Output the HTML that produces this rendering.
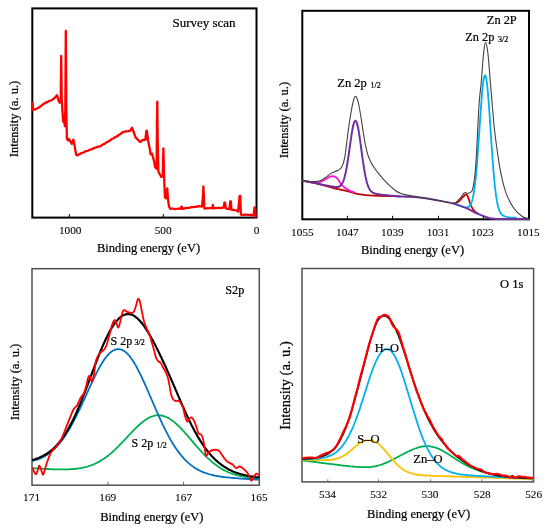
<!DOCTYPE html>
<html><head><meta charset="utf-8"><style>
html,body{margin:0;padding:0;background:#fff;}
body{width:550px;height:529px;overflow:hidden;font-family:"Liberation Serif", serif;}
svg{display:block;will-change:transform;}
</style></head><body>
<svg width="550" height="529" viewBox="0 0 550 529" font-family="Liberation Serif, serif" fill="#000">
<style>text{stroke:#000;stroke-width:0.22px;paint-order:stroke;} text.n{stroke-width:0.08px;}</style>
<rect width="550" height="529" fill="#fff"/>
<rect x="32.3" y="8.4" width="224.2" height="209.2" fill="none" stroke="#000" stroke-width="2"/>
<path d="M32.6,103.2 L33,110 L34.5,109.6 L36,108.9 L37.6,108.2 L39.3,107.2 L41,106 L42.4,104.8 L43.7,103.9 L45.1,102.9 L47,102.2 L49,101 L50.9,100.5 L52.7,99.4 L54.8,97.8 L57,95.2 L58.8,101.3 L59.9,102.7 L60.7,100 L61.2,56 L61.7,99 L62.6,113.4 L63.3,121.9 L64.1,119 L64.8,126.1 L65.3,110 L65.8,31 L66.3,110 L66.9,138.9 L67.9,140.3 L69,138.9 L70.4,141.7 L71.9,143.9 L73.3,139.6 L74.4,144.6 L76.1,154.5 L77.5,155.4 L78.9,154.5 L80.3,153.8 L81.7,153 L83.1,152.6 L84.5,152 L85.8,151.1 L87.2,150.9 L88.5,150.5 L89.9,149.7 L91.2,149.5 L92.6,148.9 L94,148 L95.3,147.8 L96.7,147.1 L98,146.7 L100,146.4 L101.4,145.5 L102.7,144.6 L104.1,144.1 L105.4,143.1 L106.8,142.1 L108.2,141.5 L109.5,140.9 L110.9,139.7 L112.2,138.8 L113.6,138.2 L114.9,137.3 L116.2,136.8 L117.5,136 L118.8,134.9 L120.1,134.2 L121.4,133.3 L122.7,132.2 L124.2,131.8 L125.7,131.3 L127.3,131.4 L128.8,131 L130.3,130.7 L132.1,127.7 L135.6,137.5 L137.1,138.9 L138.6,140.3 L140.1,142 L141.6,140.8 L143.1,139.8 L145.4,139.8 L146.3,131 L146.8,130.7 L148.1,140.5 L149.9,149.6 L150.6,154.4 L152.1,153.6 L154.4,162.7 L155.1,167.2 L156.6,168.7 L157,120 L157.3,101.6 L157.7,140 L158.4,171.7 L159.8,174.3 L161.2,177 L162.7,176.3 L163.1,160 L163.4,148.3 L163.8,165 L164.2,179.3 L164.9,197.4 L166,198.2 L167.2,188.4 L168,199 L169,206.5 L170.2,208.8 L171.5,208.6 L172.8,208.7 L174.2,208.8 L175.5,209.1 L176.8,208.9 L178.2,208.6 L179.5,208.6 L180.8,208.8 L181.6,206.5 L182.5,208.8 L184,208.5 L185.5,208.2 L187,207.9 L188.5,207.9 L190,207.7 L191.5,207.1 L193,207.2 L194.4,206.8 L195.9,206.8 L197.4,206.5 L198.9,206.1 L200.5,206.4 L202.1,206.5 L203,195 L203.4,186.3 L203.9,197 L204.3,208.4 L205.6,208.5 L207,208.2 L208.3,208.4 L209.6,208.1 L211,208.2 L212.3,208.1 L212.9,204.8 L213.4,208.4 L214.9,208.2 L216.3,208.2 L217.8,207.8 L219.3,207.8 L220.8,208.2 L222.2,207.6 L223.7,207.7 L224.4,202.6 L225.1,202.6 L225.8,208.4 L227.7,208.8 L229.5,209 L230.2,201.4 L230.9,201.4 L231.4,209.6 L233.1,209.9 L234.8,210.2 L236.5,210.3 L238.1,211.5 L239.6,196 L240.3,196 L240.9,214.7 L242.3,214.8 L243.7,214.9 L245.1,214.6 L246.5,214.7 L248,214.9 L249.4,214.9 L250.8,215 L252.2,215.1 L253.6,215.4 L254.5,207.3 L255,207.3 L255.5,217" fill="none" stroke="#ff0000" stroke-width="2.3" stroke-linejoin="round" stroke-linecap="round" stroke-linejoin="miter" stroke-miterlimit="3"/>
<path d="M69.3,217.6 v-3.5 M163.3,217.6 v-3.5" stroke="#000" stroke-width="1" fill="none"/>
<text x="70.2" y="234.2" font-size="11.3" text-anchor="middle" class="n">1000</text>
<text x="163.2" y="234.2" font-size="11.3" text-anchor="middle" class="n">500</text>
<text x="256.5" y="234.2" font-size="11.3" text-anchor="middle" class="n">0</text>
<text x="148.5" y="252.3" font-size="12.5" text-anchor="middle" >Binding energy (eV)</text>
<text x="0" y="0" font-size="12.5" text-anchor="middle" transform="translate(17.6,119) rotate(-90)">Intensity (a. u.)</text>
<text x="204" y="27.2" font-size="13" text-anchor="middle" >Survey scan</text>
<rect x="302.3" y="10.8" width="226.7" height="208.5" fill="none" stroke="#000" stroke-width="2"/>
<path d="M302.6,180.8 C304.9,181.2 311.4,182.2 316.4,183.4 C321.4,184.6 327.2,186.4 332.7,187.8 C338.1,189.2 344.6,190.5 349.1,191.6 C353.7,192.7 355.9,193.6 360,194.3 C364.1,195 368.7,195.3 373.7,195.6 C378.7,195.9 385.6,196 390,196.1 C394.4,196.2 398.3,196.3 400,196.3" fill="none" stroke="#c00000" stroke-width="1.8" stroke-linejoin="round" stroke-linecap="round" />
<path d="M316.4,182.9 L317.6,182.7 L318.9,182.3 L320.1,181.9 L321.4,181.4 L322.6,180.8 L323.9,180.1 L325.1,179.4 L326.4,178.7 L327.6,177.9 L328.9,177.2 L330.1,176.7 L331.3,176.3 L332.6,176.2 L333.8,176.3 L335.1,176.8 L336.3,177.6 L337.3,178.5 L338.1,179.5 L338.8,180.7 L339.6,181.9 L340.3,183.1 L341.1,184.1 L342,185.2 L343,186.2 L344,187 L345,187.8 L346,188.5 L347.3,189.3 L348.5,190 L349.8,190.6 L351,191.1 L352.3,191.6 L353.5,192 L354,192.2" fill="none" stroke="#ff14d2" stroke-width="1.8" stroke-linejoin="round" stroke-linecap="round" />
<path d="M453.6,203.6 L454.8,203.3 L456.1,202.9 L457.3,202.4 L458.6,201.5 L459.6,200.6 L460.6,199.6 L461.6,198.4 L462.6,197.2 L463.6,196.3 L464.6,195.4 L465.6,194.5 L466.8,194.6 L467.5,195.8 L468,197 L468.5,198.4 L469,200 L469.5,201.5 L470,203 L470.5,204.3 L471,205.6 L471.5,206.7 L472.3,208.1 L473,209.3 L473.8,210.3 L474.8,211.4 L475.8,212.2 L476.8,212.9 L477.5,213.3" fill="none" stroke="#d00000" stroke-width="1.8" stroke-linejoin="round" stroke-linecap="round" />
<path d="M455.5,203.8 L456.7,204.5 L458,205 L459.2,205.6 L460.5,206 L461.7,206.5 L463,206.8 L464.2,207.2 L465.5,207.4 L466.7,207.4 L467.9,207.2 L469.2,206.4 L470.2,205.3 L470.9,203.9 L471.4,202.7 L471.9,201.3 L472.4,199.5 L472.9,197.4 L473.2,196.2 L473.4,194.9 L473.7,193.5 L473.9,192 L474.2,190.4 L474.4,188.7 L474.7,186.9 L474.9,184.9 L475.2,182.8 L475.4,180.6 L475.7,178.3 L475.9,175.8 L476.2,173.2 L476.4,170.5 L476.7,167.7 L476.9,164.8 L477.2,161.7 L477.4,158.6 L477.6,155.3 L477.9,152 L478.1,148.5 L478.4,145 L478.6,141.5 L478.9,137.8 L479.1,134.2 L479.4,130.5 L479.6,126.8 L479.9,123.1 L480.1,119.5 L480.4,115.8 L480.6,112.3 L480.9,108.8 L481.1,105.4 L481.4,102 L481.6,98.9 L481.9,95.8 L482.1,92.9 L482.4,90.2 L482.6,87.6 L482.9,85.3 L483.1,83.2 L483.4,81.3 L483.6,79.7 L483.9,78.2 L484.4,76.2 L485.1,75.2 L485.9,76.7 L486.4,79.1 L486.6,80.7 L486.9,82.5 L487.1,84.5 L487.4,86.8 L487.6,89.3 L487.9,92 L488.1,94.8 L488.3,97.9 L488.6,101.1 L488.8,104.4 L489.1,107.8 L489.3,111.4 L489.6,115 L489.8,118.7 L490.1,122.5 L490.3,126.2 L490.6,130 L490.8,133.8 L491.1,137.6 L491.3,141.4 L491.6,145.1 L491.8,148.8 L492.1,152.3 L492.3,155.9 L492.6,159.3 L492.8,162.6 L493.1,165.9 L493.3,169 L493.6,172.1 L493.8,175 L494.1,177.7 L494.3,180.4 L494.6,183 L494.8,185.4 L495.1,187.7 L495.3,189.8 L495.6,191.9 L495.8,193.8 L496.1,195.6 L496.3,197.3 L496.6,198.9 L496.8,200.4 L497.1,201.8 L497.3,203.1 L497.6,204.3 L498.1,206.4 L498.6,208.2 L499.1,209.7 L499.5,210.9 L500.3,212.5 L501,213.6 L502,214.7 L503,215.4 L504.3,216.1 L505.5,216.5 L506.8,216.9 L508,217.2 L509.3,217.5 L510,217.7 L516,217.7" fill="none" stroke="#00b0f0" stroke-width="1.8" stroke-linejoin="round" stroke-linecap="round" />
<path d="M302.6,180.5 L303.8,180.8 L305.1,181.1 L306.3,181.3 L307.6,181.6 L308.8,181.8 L310.1,182.1 L311.3,182.4 L312.6,182.6 L313.8,182.9 L315.1,183.1 L316.3,183.4 L317.6,183.6 L318.8,183.9 L320.1,184.2 L321.3,184.4 L322.6,184.7 L323.8,184.9 L325.1,185.2 L326.3,185.4 L327.6,185.6 L328.8,185.9 L330.1,186.1 L331.3,186.4 L332.6,186.6 L333.8,186.8 L335.1,187 L336.3,187 L337.6,187 L338.8,186.7 L340.1,186 L341.1,185.1 L341.8,184.1 L342.6,182.7 L343.1,181.6 L343.6,180.3 L344.1,178.8 L344.6,177.1 L345.1,175.1 L345.6,173 L346.1,170.6 L346.3,169.3 L346.6,168 L346.8,166.6 L347.1,165.1 L347.3,163.6 L347.6,162.1 L347.8,160.5 L348.1,158.9 L348.3,157.2 L348.6,155.5 L348.8,153.8 L349.1,152 L349.3,150.2 L349.6,148.5 L349.8,146.7 L350.1,144.9 L350.3,143.1 L350.6,141.4 L350.8,139.6 L351.1,137.9 L351.3,136.3 L351.5,134.7 L351.8,133.1 L352,131.6 L352.3,130.2 L352.5,128.8 L352.8,127.6 L353,126.4 L353.5,124.3 L354,122.7 L354.5,121.6 L355.5,120.7 L356.5,122 L357,123.3 L357.5,125.2 L358,127.4 L358.3,128.7 L358.5,130.1 L358.8,131.5 L359,133 L359.3,134.6 L359.5,136.3 L359.8,138 L360,139.7 L360.3,141.5 L360.5,143.4 L360.8,145.2 L361,147.1 L361.3,148.9 L361.5,150.8 L361.8,152.6 L362,154.5 L362.3,156.3 L362.5,158.1 L362.8,159.9 L363,161.7 L363.3,163.4 L363.5,165 L363.8,166.7 L364,168.2 L364.3,169.8 L364.5,171.2 L364.8,172.6 L365,174 L365.3,175.3 L365.5,176.5 L365.8,177.7 L366.3,179.9 L366.8,181.9 L367.3,183.7 L367.8,185.2 L368.3,186.6 L368.8,187.7 L369.5,189.2 L370.3,190.4 L371.3,191.5 L372.3,192.3 L373.5,193 L374.8,193.5 L376,193.8 L377.3,194 L378.5,194.2 L379.8,194.4 L381,194.6 L382.3,194.7 L383.5,194.9 L384.8,195 L386,195.2 L387.3,195.3 L388.5,195.4 L389.8,195.6 L391,195.7 L392.3,195.8 L393.5,195.9 L394.8,196 L396,196.1 L397.3,196.2 L398.5,196.3 L399.8,196.4 L400,196.5 L400,196.5 C402.9,196.6 411.4,196.7 417.3,197.3 C423.2,197.9 429.4,198.9 435.5,200 C441.6,201.1 448.5,202.2 453.6,203.6 C458.8,205 462.4,206.5 466.4,208.2 C470.3,209.9 474.2,212.2 477.3,213.6 C480.4,215 482.6,215.8 485,216.6 C487.4,217.4 489.2,218.2 491.7,218.6 C494.2,219 493.8,218.9 500,219 C506.2,219.1 523.9,219 528.7,219" fill="none" stroke="#7030a0" stroke-width="2.0" stroke-linejoin="round" stroke-linecap="round" />
<path d="M302.6,180.8 C303.8,180.9 307.7,181.4 310,181.5 C312.3,181.6 314.4,181.8 316.4,181.6 C318.4,181.3 320.1,180.8 321.8,180 C323.5,179.2 325.2,177.7 326.7,176.6 C328.2,175.5 329.6,174.3 331,173.4 C332.4,172.5 333.9,172 335.2,171.4 C336.5,170.8 337.5,170.8 338.6,170 C339.7,169.2 341,168.6 342,166.6 C343,164.6 343.9,161.5 344.6,158.1 C345.3,154.7 345.7,150.4 346.3,146.2 C346.9,141.9 347.3,137.7 348,132.6 C348.7,127.5 349.6,120.6 350.5,115.5 C351.4,110.4 352.3,105.1 353.1,101.9 C353.9,98.7 354.7,96.4 355.5,96.4 C356.3,96.4 357.2,98.7 358.1,101.9 C359,105.1 359.8,110.4 360.7,115.5 C361.6,120.6 362.5,127.8 363.3,132.6 C364.1,137.4 364.6,140.5 365.3,144.2 C366.1,147.9 366.9,151.7 367.8,154.7 C368.7,157.7 369.8,160 370.9,162.3 C372,164.6 373.2,166.3 374.6,168.3 C376,170.3 377.6,172.4 379.2,174.4 C380.8,176.4 382.8,178.5 384.5,180.4 C386.2,182.3 387.9,184.1 389.7,185.7 C391.4,187.3 393.2,188.9 395,190.2 C396.8,191.5 398.6,192.6 400.3,193.3 C402,194 402.2,194 405,194.6 C407.8,195.2 412.2,195.8 417.3,196.7 C422.4,197.6 430.1,199 435.5,200 C440.9,201 446.7,202.2 450,202.7 C453.3,203.1 453.7,203.6 455.5,202.7 C457.3,201.8 459.4,199 460.9,197.3 C462.4,195.6 463.3,193.3 464.5,192.7 C465.7,192 467,193.7 468.2,193.4 C469.4,193.2 470.9,192.6 471.8,191.2 C472.7,189.8 472.9,188.2 473.5,185 C474.1,181.8 474.7,177.2 475.2,172 C475.7,166.8 475.9,163.8 476.5,153.5 C477.1,143.2 478.1,119.6 478.7,110 C479.2,100.4 479.4,100.9 479.8,96 C480.2,91.1 480.8,87.6 481.4,80.5 C482,73.4 482.9,59.6 483.6,53.2 C484.3,46.9 484.9,42.4 485.6,42.4 C486.3,42.4 487.1,46.9 487.9,53.2 C488.7,59.6 489.4,71 490.2,80.5 C491,90 492,102.2 492.7,110 C493.4,117.8 493.6,121.6 494.2,127 C494.8,132.4 495.1,135.3 496.1,142.6 C497.1,149.9 498.8,162.6 500.4,170.9 C502,179.2 503.7,186.4 505.9,192.6 C508.1,198.8 510.8,203.8 513.5,207.8 C516.2,211.8 519.7,214.7 522.2,216.5 C524.7,218.3 527.6,218.2 528.7,218.5" fill="none" stroke="#404040" stroke-width="1.1" stroke-linejoin="round" stroke-linecap="round" />
<path d="M347.4,219.3 v-3.5 M392.6,219.3 v-3.5 M438.5,219.3 v-3.5 M483.5,219.3 v-3.5" stroke="#000" stroke-width="1" fill="none"/>
<text x="302.4" y="235.8" font-size="11.3" text-anchor="middle" class="n">1055</text>
<text x="347.4" y="235.8" font-size="11.3" text-anchor="middle" class="n">1047</text>
<text x="392.4" y="235.8" font-size="11.3" text-anchor="middle" class="n">1039</text>
<text x="438" y="235.8" font-size="11.3" text-anchor="middle" class="n">1031</text>
<text x="482.4" y="235.8" font-size="11.3" text-anchor="middle" class="n">1023</text>
<text x="528.4" y="235.8" font-size="11.3" text-anchor="middle" class="n">1015</text>
<text x="412.5" y="253.7" font-size="12.5" text-anchor="middle" >Binding energy (eV)</text>
<text x="0" y="0" font-size="12.5" text-anchor="middle" transform="translate(288,120.1) rotate(-90)">Intensity (a. u.)</text>
<text x="501.8" y="24" font-size="12.4" text-anchor="middle" >Zn 2P</text>
<text x="465.3" y="40.9" font-size="12.3" text-anchor="start" >Zn 2p</text>
<text x="498" y="41.5" font-size="8" text-anchor="start" >3/2</text>
<text x="337.3" y="87.3" font-size="12.5" text-anchor="start" >Zn 2p</text>
<text x="370.5" y="87.6" font-size="8" text-anchor="start" >1/2</text>
<rect x="32" y="268.7" width="227.3" height="216.5" fill="none" stroke="#505050" stroke-width="1.5"/>
<path d="M33,468.2 L34.2,468.3 L35.5,468.3 L36.7,468.4 L38,468.5 L39.2,468.6 L40.5,468.6 L41.7,468.7 L43,468.8 L44.2,468.9 L45.5,468.9 L46.7,469 L48,469 L49.2,469.1 L50.5,469.2 L51.7,469.2 L53,469.3 L54.2,469.3 L55.5,469.3 L56.7,469.4 L58,469.4 L59.2,469.4 L60.5,469.4 L61.7,469.4 L63,469.4 L64.2,469.4 L65.5,469.4 L66.7,469.4 L68,469.4 L69.2,469.3 L70.5,469.2 L71.7,469.2 L73,469.1 L74.2,469 L75.5,468.9 L76.7,468.7 L78,468.5 L79.2,468.4 L80.5,468.2 L81.7,467.9 L83,467.7 L84.2,467.4 L85.5,467.1 L86.7,466.8 L88,466.4 L89.2,466 L90.5,465.6 L91.7,465.1 L93,464.6 L94.2,464.1 L95.5,463.5 L96.7,462.9 L98,462.3 L99.2,461.6 L100.5,460.9 L101.7,460.1 L103,459.3 L104,458.7 L105,458 L106,457.3 L107,456.5 L108,455.7 L109,454.9 L110,454.1 L111,453.3 L112,452.4 L113,451.5 L114,450.6 L115,449.7 L116,448.7 L117,447.7 L118,446.8 L119,445.7 L120,444.7 L121,443.7 L122,442.6 L123,441.6 L124,440.5 L125,439.5 L126,438.4 L127,437.3 L128,436.2 L129,435.1 L130,434.1 L131,433 L132,432 L133,430.9 L134,429.9 L135,428.9 L136,427.9 L137,426.9 L138,426 L139,425 L140,424.1 L141,423.3 L142,422.5 L143,421.7 L144,420.9 L145,420.2 L146,419.5 L147.2,418.7 L148.5,418 L149.7,417.4 L151,416.8 L152.2,416.4 L153.5,416 L154.7,415.7 L156,415.4 L157.2,415.3 L158.5,415.3 L159.7,415.3 L161,415.5 L162.2,415.7 L163.5,416 L164.7,416.4 L166,416.9 L167.2,417.5 L168.5,418.1 L169.7,418.9 L171,419.7 L172,420.4 L173,421.1 L174,421.9 L175,422.7 L176,423.6 L177,424.5 L178,425.5 L179,426.4 L180,427.4 L181,428.5 L182,429.5 L183,430.6 L184,431.7 L185,432.8 L186,433.9 L187,435.1 L188,436.2 L189,437.4 L190,438.6 L191,439.7 L192,440.9 L193,442.1 L194,443.3 L195,444.4 L196,445.6 L197,446.7 L198,447.9 L199,449 L200,450.1 L201,451.2 L202,452.3 L203,453.3 L204,454.4 L205,455.4 L206,456.4 L207,457.4 L208,458.3 L209,459.2 L210,460.1 L211,461 L212,461.9 L213,462.7 L214,463.5 L215,464.3 L216,465 L217,465.8 L218,466.4 L219,467.1 L220.2,467.9 L221.5,468.7 L222.7,469.4 L224,470.1 L225.2,470.7 L226.5,471.3 L227.7,471.9 L229,472.5 L230.2,473 L231.5,473.4 L232.7,473.9 L234,474.3 L235.2,474.7 L236.5,475 L237.7,475.4 L239,475.7 L240.2,476 L241.5,476.2 L242.7,476.5 L244,476.7 L245.2,476.9 L246.5,477.1 L247.7,477.3 L249,477.5 L250.2,477.6 L251.5,477.7 L252.7,477.9 L254,478 L255.2,478.1 L256.5,478.2 L257.7,478.3 L258.7,478.3" fill="none" stroke="#00b050" stroke-width="1.8" stroke-linejoin="round" stroke-linecap="round" />
<path d="M33,460.8 L34.2,460.5 L35.5,460.1 L36.7,459.7 L38,459.3 L39.2,458.8 L40.5,458.3 L41.7,457.7 L43,457.1 L44.2,456.5 L45.5,455.7 L46.7,455 L48,454.1 L49,453.4 L50,452.7 L51,451.9 L52,451.1 L53,450.2 L54,449.3 L55,448.3 L56,447.3 L57,446.2 L58,445.1 L59,444 L60,442.8 L60.7,441.8 L61.5,440.9 L62.2,439.9 L63,438.9 L63.7,437.8 L64.5,436.7 L65.2,435.6 L66,434.5 L66.7,433.3 L67.5,432.1 L68.2,430.9 L69,429.7 L69.7,428.4 L70.5,427.1 L71.2,425.7 L72,424.4 L72.7,423 L73.5,421.6 L74.2,420.2 L75,418.7 L75.7,417.3 L76.5,415.8 L77.2,414.2 L78,412.7 L78.7,411.2 L79.5,409.6 L80.2,408 L81,406.4 L81.7,404.8 L82.5,403.2 L83.2,401.5 L83.7,400.4 L84.2,399.4 L84.7,398.3 L85.2,397.2 L85.7,396.1 L86.2,394.9 L86.7,393.8 L87.2,392.7 L87.7,391.6 L88.2,390.5 L88.7,389.4 L89.2,388.3 L89.7,387.2 L90.2,386.1 L91,384.5 L91.7,382.9 L92.5,381.3 L93.2,379.7 L94,378.1 L94.7,376.6 L95.5,375.1 L96.2,373.6 L97,372.1 L97.7,370.6 L98.5,369.2 L99.2,367.9 L100,366.5 L100.7,365.2 L101.5,363.9 L102.2,362.7 L103,361.5 L103.7,360.4 L104.5,359.3 L105.2,358.3 L106,357.3 L106.7,356.3 L107.7,355.2 L108.7,354.1 L109.7,353.1 L110.7,352.3 L111.7,351.5 L112.7,350.8 L114,350.2 L115.2,349.6 L116.5,349.3 L117.7,349.1 L119,349.1 L120.2,349.3 L121.5,349.7 L122.7,350.2 L124,350.9 L125,351.6 L126,352.4 L127,353.4 L128,354.4 L129,355.5 L130,356.7 L130.7,357.7 L131.5,358.7 L132.2,359.8 L133,360.9 L133.7,362.1 L134.5,363.3 L135.2,364.6 L136,365.9 L136.7,367.3 L137.5,368.7 L138.2,370.1 L139,371.6 L139.7,373.1 L140.5,374.6 L141.2,376.2 L142,377.7 L142.7,379.3 L143.5,381 L144,382.1 L144.5,383.2 L145,384.3 L145.5,385.4 L146,386.6 L146.5,387.7 L147,388.8 L147.5,390 L148,391.1 L148.5,392.3 L149,393.5 L149.5,394.6 L150,395.8 L150.5,396.9 L151,398.1 L151.5,399.3 L152,400.4 L152.5,401.6 L153,402.8 L153.5,403.9 L154,405.1 L154.5,406.3 L155,407.4 L155.5,408.6 L156,409.7 L156.5,410.8 L157,412 L157.5,413.1 L158,414.2 L158.5,415.4 L159,416.5 L159.5,417.6 L160,418.7 L160.5,419.8 L161.2,421.4 L162,423 L162.7,424.6 L163.5,426.1 L164.2,427.7 L165,429.2 L165.7,430.7 L166.5,432.2 L167.2,433.6 L168,435 L168.7,436.4 L169.5,437.8 L170.2,439.1 L171,440.4 L171.7,441.7 L172.5,442.9 L173.2,444.2 L174,445.4 L174.7,446.5 L175.5,447.7 L176.2,448.8 L177,449.9 L177.7,450.9 L178.5,451.9 L179.2,452.9 L180,453.9 L180.7,454.8 L181.7,456.1 L182.7,457.2 L183.7,458.3 L184.7,459.4 L185.7,460.4 L186.7,461.4 L187.7,462.3 L188.7,463.2 L189.7,464.1 L190.7,464.9 L191.7,465.6 L192.7,466.4 L193.7,467.1 L195,467.9 L196.2,468.7 L197.5,469.4 L198.7,470.1 L200,470.7 L201.2,471.3 L202.5,471.8 L203.7,472.3 L205,472.8 L206.2,473.2 L207.5,473.6 L208.7,474 L210,474.4 L211.2,474.7 L212.5,475 L213.7,475.3 L215,475.6 L216.2,475.8 L217.5,476 L218.7,476.3 L220,476.5 L221.2,476.6 L222.5,476.8 L223.7,477 L225,477.1 L226.2,477.3 L227.5,477.4 L228.7,477.6 L230,477.7 L231.2,477.8 L232.5,477.9 L233.7,478 L235,478.1 L236.2,478.2 L237.5,478.3 L238.7,478.4 L240,478.5 L241.2,478.6 L242.5,478.7 L243.7,478.8 L245,478.8 L246.2,478.9 L247.5,479 L248.7,479.1 L250,479.2 L251.2,479.2 L252.5,479.3 L253.7,479.4 L255,479.5 L256.2,479.5 L257.5,479.6 L258.7,479.7" fill="none" stroke="#0070c0" stroke-width="1.8" stroke-linejoin="round" stroke-linecap="round" />
<path d="M33,459.8 L34.2,459.5 L35.5,459.1 L36.7,458.6 L38,458.2 L39.2,457.7 L40.5,457.1 L41.7,456.6 L43,455.9 L44.2,455.3 L45.5,454.5 L46.7,453.8 L48,452.9 L49,452.2 L50,451.5 L51,450.7 L52,449.9 L53,449 L54,448 L55,447.1 L56,446 L57,445 L58,443.8 L59,442.7 L60,441.4 L60.7,440.5 L61.5,439.5 L62.2,438.4 L63,437.4 L63.7,436.3 L64.5,435.2 L65.2,434 L66,432.8 L66.7,431.6 L67.5,430.3 L68.2,429 L69,427.7 L69.7,426.3 L70.5,424.9 L71.2,423.5 L72,422 L72.7,420.5 L73.5,419 L74.2,417.4 L75,415.8 L75.7,414.2 L76.2,413.1 L76.7,412 L77.2,410.8 L77.7,409.7 L78.2,408.5 L78.7,407.4 L79.2,406.2 L79.7,405 L80.2,403.8 L80.7,402.6 L81.2,401.4 L81.7,400.1 L82.2,398.9 L82.7,397.6 L83.2,396.4 L83.7,395.1 L84.2,393.8 L84.7,392.5 L85.2,391.2 L85.7,389.9 L86.2,388.6 L86.7,387.3 L87.2,386 L87.7,384.7 L88.2,383.3 L88.7,382 L89.2,380.7 L89.7,379.3 L90.2,378 L90.7,376.7 L91.2,375.3 L91.7,374 L92.2,372.7 L92.7,371.3 L93.2,370 L93.7,368.7 L94.2,367.3 L94.7,366 L95.2,364.7 L95.7,363.4 L96.2,362.1 L96.7,360.8 L97.2,359.5 L97.7,358.2 L98.2,356.9 L98.7,355.7 L99.2,354.4 L99.7,353.2 L100.2,352 L100.7,350.7 L101.2,349.5 L101.7,348.3 L102.2,347.1 L102.7,346 L103.2,344.8 L103.7,343.7 L104.2,342.6 L104.7,341.5 L105.5,339.8 L106.2,338.2 L107,336.7 L107.7,335.2 L108.5,333.7 L109.2,332.3 L110,330.9 L110.7,329.6 L111.5,328.3 L112.2,327.1 L113,325.9 L113.7,324.8 L114.5,323.7 L115.2,322.7 L116,321.8 L117,320.6 L118,319.4 L119,318.4 L120,317.5 L121,316.7 L122,316.1 L123.2,315.3 L124.5,314.8 L125.7,314.4 L127,314.1 L128.2,314.1 L129.5,314.2 L130.7,314.4 L132,314.8 L133.2,315.4 L134.5,316.1 L135.5,316.8 L136.5,317.6 L137.5,318.4 L138.5,319.4 L139.5,320.4 L140.5,321.5 L141.5,322.7 L142.2,323.7 L143,324.6 L143.7,325.7 L144.5,326.7 L145.2,327.8 L146,328.9 L146.7,330.1 L147.5,331.3 L148.2,332.5 L149,333.8 L149.7,335 L150.5,336.3 L151.2,337.7 L152,339 L152.7,340.4 L153.5,341.8 L154.2,343.2 L155,344.7 L155.7,346.1 L156.5,347.6 L157.2,349.1 L158,350.6 L158.7,352.1 L159.5,353.7 L160.2,355.2 L161,356.8 L161.7,358.4 L162.5,360 L163.2,361.6 L164,363.2 L164.5,364.3 L165,365.4 L165.5,366.5 L166,367.6 L166.5,368.7 L167,369.9 L167.5,371 L168,372.1 L168.5,373.2 L169,374.4 L169.5,375.5 L170,376.6 L170.5,377.8 L171,378.9 L171.5,380.1 L172,381.2 L172.5,382.4 L173,383.6 L173.5,384.7 L174,385.9 L174.5,387 L175,388.2 L175.5,389.4 L176,390.5 L176.5,391.7 L177,392.9 L177.5,394 L178,395.2 L178.5,396.4 L179,397.5 L179.5,398.7 L180,399.8 L180.5,401 L181,402.1 L181.5,403.3 L182,404.4 L182.5,405.6 L183,406.7 L183.5,407.8 L184,408.9 L184.5,410.1 L185,411.2 L185.5,412.3 L186,413.4 L186.7,415 L187.5,416.6 L188.2,418.2 L189,419.8 L189.7,421.3 L190.5,422.9 L191.2,424.4 L192,425.9 L192.7,427.3 L193.5,428.8 L194.2,430.2 L195,431.6 L195.7,432.9 L196.5,434.3 L197.2,435.6 L198,436.9 L198.7,438.2 L199.5,439.4 L200.2,440.6 L201,441.8 L201.7,442.9 L202.5,444.1 L203.2,445.2 L204,446.3 L204.7,447.3 L205.5,448.4 L206.2,449.4 L207,450.3 L207.7,451.3 L208.7,452.5 L209.7,453.7 L210.7,454.9 L211.7,456 L212.7,457 L213.7,458.1 L214.7,459.1 L215.7,460 L216.7,460.9 L217.7,461.8 L218.7,462.7 L219.7,463.5 L220.7,464.2 L221.7,465 L222.7,465.7 L223.7,466.4 L225,467.2 L226.2,467.9 L227.5,468.7 L228.7,469.4 L230,470 L231.2,470.6 L232.5,471.2 L233.7,471.7 L235,472.2 L236.2,472.7 L237.5,473.1 L238.7,473.5 L240,473.9 L241.2,474.3 L242.5,474.6 L243.7,474.9 L245,475.2 L246.2,475.5 L247.5,475.7 L248.7,476 L250,476.2 L251.2,476.4 L252.5,476.6 L253.7,476.8 L255,476.9 L256.2,477.1 L257.5,477.2 L258.7,477.3" fill="none" stroke="#000" stroke-width="2.15" stroke-linejoin="round" stroke-linecap="round" />
<path d="M32.6,468.3 C33.1,469.3 34.8,473.8 35.6,474.2 C36.4,474.6 37,472 37.6,470.5 C38.2,469 38.7,465.4 39.3,465.3 C39.9,465.2 40.6,468.4 41.2,470 C41.8,471.6 42.5,475 43.1,474.8 C43.7,474.6 44.4,471 45,469 C45.6,467 45.9,465.4 46.9,462.7 C47.9,460 49.7,455 50.7,452.9 C51.7,450.8 52.3,450.6 53,449.8 C53.7,449 53.9,449.4 54.9,448.3 C55.9,447.2 57.6,445 58.8,443.3 C59.9,441.6 60.7,440.6 61.8,438.2 C62.9,435.8 64.3,432.1 65.6,428.9 C66.9,425.7 68.1,422.2 69.4,419.1 C70.7,416 71.9,412.4 73.2,410 C74.5,407.6 76,407.1 77.3,405 C78.5,402.9 79.5,399.8 80.7,397.7 C81.9,395.6 83.2,394.7 84.2,392.6 C85.2,390.5 85.8,387.7 86.4,385.2 C87.1,382.7 87.5,379.3 88.1,377.8 C88.7,376.3 89.2,375.5 89.8,376.1 C90.4,376.7 91,380.5 91.5,381.2 C92,381.9 92.2,381.5 92.7,380.1 C93.2,378.7 93.7,376 94.2,373 C94.7,370 95.1,364.9 95.7,362 C96.3,359.1 97,357.5 97.9,355.8 C98.8,354.1 100.2,352.9 101.3,351.8 C102.3,350.8 103.3,350.6 104.2,349.5 C105.1,348.4 105.7,347.5 106.6,345 C107.5,342.5 108.5,338.1 109.5,334.7 C110.5,331.2 111.4,326.8 112.3,324.3 C113.2,321.9 114,320.1 114.7,320 C115.4,319.9 115.9,322.1 116.5,323.4 C117.1,324.7 117.8,327.9 118.4,327.6 C119,327.3 119.5,324.3 120.3,321.5 C121.1,318.7 122,312.2 123.2,310.6 C124.4,309 125.8,311.7 127.4,312 C129.1,312.3 131.7,313.4 133.1,312.5 C134.5,311.6 135.1,308.5 135.9,306.3 C136.7,304.1 137.2,300.2 137.8,299.3 C138.4,298.4 139.1,298.9 139.7,300.7 C140.3,302.5 140.9,306.6 141.6,310.1 C142.3,313.6 143.2,318.6 144,321.5 C144.8,324.4 145.4,325.4 146.3,327.6 C147.2,329.8 148.6,332 149.5,334.5 C150.4,337 151.1,340 151.8,342.6 C152.6,345.2 153.2,347.5 154,350.1 C154.8,352.7 155.5,356.5 156.3,358.4 C157.1,360.3 157.8,360.7 158.6,361.5 C159.4,362.3 160.2,362 160.9,363 C161.7,364 162.2,365.9 163.1,367.5 C164,369.1 165.3,371.1 166.1,372.8 C166.9,374.6 167.4,375.9 168,378 C168.6,380.1 169,383 169.5,385.6 C170,388.2 170.5,391.8 171,393.9 C171.5,396 171.8,397.3 172.6,398.5 C173.4,399.7 174.6,400.7 175.6,401.1 C176.6,401.5 177.8,400.5 178.6,400.7 C179.3,400.9 179.3,401 180.1,402.2 C180.8,403.4 182.3,405.7 183.1,408 C183.9,410.3 184.3,413.7 185,416 C185.7,418.3 186.5,421.2 187.3,421.6 C188.1,422 188.8,419.3 189.6,418.6 C190.3,417.9 191.1,417.1 191.8,417.5 C192.6,417.9 193.3,419.3 194.1,420.9 C194.9,422.5 195.7,424.9 196.4,426.9 C197.1,428.9 197.6,431.7 198.3,433 C199.1,434.3 200.2,433.9 200.9,434.5 C201.6,435.1 202,435.4 202.4,436.7 C202.8,437.9 203.2,440.1 203.6,442 C204,443.9 204.3,445.8 204.7,448 C205.1,450.2 205.4,454.6 205.9,455.5 C206.4,456.4 207.2,454.5 207.9,453.7 C208.6,452.9 209.3,451.5 210.3,450.9 C211.3,450.3 212.9,450.1 214,449.9 C215.1,449.7 216,449.6 217,449.9 C218,450.2 219.2,450.9 220,451.8 C220.8,452.7 220.9,453.4 222,455 C223.1,456.6 225.2,459.7 226.6,461.1 C228,462.5 229.4,462.8 230.5,463.4 C231.6,464 232.2,464.1 233.1,464.9 C234,465.7 235.1,467.9 236.2,468.2 C237.3,468.5 238.4,466.4 239.6,466.5 C240.8,466.6 242.1,467.7 243.4,468.7 C244.7,469.7 246.2,471.2 247.2,472.6 C248.2,474 248.8,475.7 249.5,477.1 C250.2,478.5 250.7,480.8 251.4,480.8 C252.1,480.8 252.9,478.3 253.7,477.1 C254.5,475.9 255.2,474.1 256,473.7 C256.9,473.3 258.3,474.8 258.8,475" fill="none" stroke="#ff0000" stroke-width="1.8" stroke-linejoin="round" stroke-linecap="round" />
<path d="M107.9,485.2 v-3.3 M183.6,485.2 v-3.3" stroke="#6a6a6a" stroke-width="1" fill="none"/>
<text x="31.6" y="501" font-size="11.3" text-anchor="middle" class="n">171</text>
<text x="107.8" y="501" font-size="11.3" text-anchor="middle" class="n">169</text>
<text x="183.6" y="501" font-size="11.3" text-anchor="middle" class="n">167</text>
<text x="259.1" y="501" font-size="11.3" text-anchor="middle" class="n">165</text>
<text x="151.9" y="520.8" font-size="12.5" text-anchor="middle" >Binding energy (eV)</text>
<text x="0" y="0" font-size="12.5" text-anchor="middle" transform="translate(19,382) rotate(-90)">Intensity (a. u.)</text>
<text x="234.8" y="293.6" font-size="12.2" text-anchor="middle" >S2p</text>
<text x="110.5" y="344.7" font-size="12" text-anchor="start" >S 2p</text>
<text x="134.5" y="345.3" font-size="8" text-anchor="start" >3/2</text>
<text x="131.5" y="447.4" font-size="12" text-anchor="start" >S 2p</text>
<text x="156.5" y="448.3" font-size="8" text-anchor="start" >1/2</text>
<rect x="302" y="268.5" width="231.6" height="213.4" fill="none" stroke="#505050" stroke-width="1.5"/>
<path d="M302.7,460.4 L303.9,460.6 L305.2,460.8 L306.4,460.9 L307.7,461.1 L308.9,461.2 L310.2,461.4 L311.4,461.5 L312.7,461.7 L313.9,461.9 L315.2,462 L316.4,462.2 L317.7,462.3 L318.9,462.5 L320.2,462.7 L321.4,462.8 L322.7,463 L323.9,463.1 L325.2,463.3 L326.4,463.5 L327.7,463.6 L328.9,463.8 L330.2,463.9 L331.4,464.1 L332.7,464.2 L333.9,464.4 L335.2,464.6 L336.4,464.7 L337.7,464.9 L338.9,465 L340.2,465.2 L341.4,465.3 L342.7,465.5 L343.9,465.6 L345.2,465.8 L346.4,465.9 L347.7,466 L348.9,466.2 L350.2,466.3 L351.4,466.4 L352.7,466.5 L353.9,466.6 L355.2,466.8 L356.4,466.9 L357.7,466.9 L358.9,467 L360.2,467.1 L361.4,467.1 L362.6,467.2 L363.9,467.2 L365.1,467.2 L366.4,467.2 L367.6,467.1 L368.9,467.1 L370.1,467 L371.4,466.8 L372.6,466.7 L373.9,466.5 L375.1,466.3 L376.4,466 L377.6,465.7 L378.9,465.4 L380.1,465 L381.4,464.6 L382.6,464.2 L383.9,463.7 L385.1,463.2 L386.4,462.7 L387.6,462.1 L388.9,461.5 L390.1,460.9 L391.4,460.3 L392.6,459.7 L393.9,459 L395.1,458.4 L396.4,457.7 L397.6,457 L398.9,456.4 L400.1,455.7 L401.4,455 L402.6,454.4 L403.9,453.7 L405.1,453.1 L406.4,452.4 L407.6,451.8 L408.9,451.2 L410.1,450.6 L411.4,450.1 L412.6,449.5 L413.9,449 L415.1,448.5 L416.4,448.1 L417.6,447.7 L418.8,447.3 L420.1,447 L421.3,446.7 L422.6,446.5 L423.8,446.3 L425.1,446.2 L426.3,446.2 L427.6,446.2 L428.8,446.2 L430.1,446.4 L431.3,446.6 L432.6,446.8 L433.8,447.1 L435.1,447.5 L436.3,447.9 L437.6,448.4 L438.8,448.9 L440.1,449.5 L441.3,450.1 L442.6,450.8 L443.8,451.5 L445.1,452.2 L446.3,453 L447.6,453.7 L448.8,454.5 L450.1,455.3 L451.3,456.2 L452.6,457 L453.8,457.8 L455.1,458.6 L456.3,459.4 L457.6,460.2 L458.8,461 L460.1,461.8 L461.3,462.5 L462.6,463.3 L463.8,464 L465.1,464.7 L466.3,465.3 L467.6,466 L468.8,466.6 L470.1,467.2 L471.3,467.7 L472.6,468.2 L473.8,468.7 L475.1,469.2 L476.3,469.7 L477.5,470.1 L478.8,470.5 L480,470.9 L481.3,471.3 L482.5,471.6 L483.8,471.9 L485,472.3 L486.3,472.6 L487.5,472.8 L488.8,473.1 L490,473.4 L491.3,473.6 L492.5,473.8 L493.8,474.1 L495,474.3 L496.3,474.5 L497.5,474.7 L498.8,474.9 L500,475.1 L501.3,475.3 L502.5,475.5 L503.8,475.6 L505,475.8 L506.3,476 L507.5,476.2 L508.8,476.3 L510,476.5 L511.3,476.7 L512.5,476.8 L513.8,477 L515,477.2 L516.3,477.3 L517.5,477.5 L518.8,477.7 L520,477.8 L521.3,478 L522.5,478.1 L523.8,478.3 L525,478.5 L526.3,478.6 L527.5,478.8 L528.8,479 L530,479.1 L531.3,479.3 L532.5,479.4 L533,479.5" fill="none" stroke="#00b050" stroke-width="1.8" stroke-linejoin="round" stroke-linecap="round" />
<path d="M302.7,459.6 L303.9,459.7 L305.2,459.7 L306.4,459.8 L307.7,459.8 L308.9,459.8 L310.2,459.9 L311.4,459.9 L312.7,460 L313.9,460 L315.2,460 L316.4,460 L317.7,460.1 L318.9,460.1 L320.2,460.1 L321.4,460.1 L322.7,460.1 L323.9,460.1 L325.2,460.1 L326.4,460 L327.7,460 L328.9,459.9 L330.2,459.8 L331.4,459.7 L332.7,459.5 L333.9,459.3 L335.2,459 L336.4,458.7 L337.7,458.4 L338.9,457.9 L340.2,457.5 L341.4,456.9 L342.7,456.3 L343.9,455.6 L345.2,454.8 L346.4,454 L347.4,453.3 L348.4,452.5 L349.4,451.7 L350.4,450.9 L351.4,450 L352.4,449.2 L353.4,448.3 L354.4,447.4 L355.4,446.5 L356.4,445.6 L357.4,444.8 L358.4,444 L359.4,443.3 L360.6,442.5 L361.9,441.8 L363.1,441.3 L364.4,440.8 L365.6,440.5 L366.9,440.4 L368.1,440.3 L369.4,440.3 L370.6,440.5 L371.9,440.7 L373.1,441.1 L374.4,441.6 L375.6,442.2 L376.9,442.9 L377.9,443.6 L378.9,444.3 L379.9,445.2 L380.9,446.1 L381.9,447.1 L382.9,448.1 L383.9,449.2 L384.9,450.3 L385.9,451.5 L386.9,452.7 L387.9,453.9 L388.9,455.1 L389.9,456.3 L390.9,457.6 L391.9,458.8 L392.9,459.9 L393.9,461.1 L394.9,462.2 L395.9,463.3 L396.9,464.3 L397.9,465.3 L398.9,466.2 L399.9,467.1 L400.9,467.9 L401.9,468.6 L402.9,469.3 L404.1,470.1 L405.4,470.9 L406.6,471.5 L407.9,472.1 L409.1,472.6 L410.4,473 L411.6,473.4 L412.9,473.8 L414.1,474.1 L415.4,474.3 L416.6,474.6 L417.9,474.7 L419.1,474.9 L420.3,475.1 L421.6,475.2 L422.8,475.3 L424.1,475.4 L425.3,475.5 L426.6,475.5 L427.8,475.6 L429.1,475.7 L430.3,475.7 L431.6,475.8 L432.8,475.8 L434.1,475.9 L435.3,475.9 L436.6,476 L437.8,476 L439.1,476.1 L440.3,476.1 L441.6,476.1 L442.8,476.2 L444.1,476.2 L445.3,476.3 L446.6,476.3 L447.8,476.3 L449.1,476.4 L450.3,476.4 L451.6,476.5 L452.8,476.5 L454.1,476.6 L455.3,476.6 L456.6,476.6 L457.8,476.7 L459.1,476.7 L460.3,476.8 L461.6,476.8 L462.8,476.8 L464.1,476.9 L465.3,476.9 L466.6,477 L467.8,477 L469.1,477 L470.3,477.1 L471.6,477.1 L472.8,477.2 L474.1,477.2 L475.3,477.2 L476.5,477.3 L477.8,477.3 L479,477.4 L480.3,477.4 L481.5,477.5 L482.8,477.5 L484,477.5 L485.3,477.6 L486.5,477.6 L487.8,477.7 L489,477.7 L490.3,477.7 L491.5,477.8 L492.8,477.8 L494,477.9 L495.3,477.9 L496.5,477.9 L497.8,478 L499,478 L500.3,478.1 L501.5,478.1 L502.8,478.2 L504,478.2 L505.3,478.2 L506.5,478.3 L507.8,478.3 L509,478.4 L510.3,478.4 L511.5,478.4 L512.8,478.5 L514,478.5 L515.3,478.6 L516.5,478.6 L517.8,478.6 L519,478.7 L520.3,478.7 L521.5,478.8 L522.8,478.8 L524,478.8 L525.3,478.9 L526.5,478.9 L527.8,479 L529,479 L530.3,479.1 L531.5,479.1 L532.8,479.1 L533,479.1" fill="none" stroke="#ffc000" stroke-width="1.8" stroke-linejoin="round" stroke-linecap="round" />
<path d="M302.7,459.1 L303.9,459.1 L305.2,459.1 L306.4,459.1 L307.7,459.1 L308.9,459.1 L310.2,459 L311.4,459 L312.7,459 L313.9,458.9 L315.2,458.8 L316.4,458.7 L317.7,458.6 L318.9,458.5 L320.2,458.3 L321.4,458.2 L322.7,457.9 L323.9,457.7 L325.2,457.4 L326.4,457.1 L327.7,456.7 L328.9,456.2 L330.2,455.7 L331.4,455.1 L332.7,454.5 L333.9,453.7 L335.2,452.9 L336.2,452.2 L337.2,451.4 L338.2,450.5 L339.2,449.5 L340.2,448.5 L341.2,447.4 L342.2,446.2 L342.9,445.2 L343.7,444.2 L344.4,443.1 L345.2,442 L345.9,440.8 L346.7,439.6 L347.4,438.3 L348.2,437 L348.9,435.6 L349.7,434.1 L350.4,432.6 L351.2,431 L351.7,429.9 L352.2,428.8 L352.7,427.6 L353.2,426.5 L353.7,425.3 L354.2,424 L354.7,422.8 L355.2,421.5 L355.7,420.2 L356.2,418.9 L356.7,417.6 L357.2,416.2 L357.7,414.8 L358.2,413.4 L358.7,412 L359.2,410.6 L359.7,409.1 L360.2,407.6 L360.6,406.1 L361.1,404.6 L361.6,403.1 L362.1,401.6 L362.6,400 L363.1,398.5 L363.6,396.9 L364.1,395.3 L364.6,393.8 L365.1,392.2 L365.6,390.6 L366.1,389 L366.6,387.5 L367.1,385.9 L367.6,384.3 L368.1,382.8 L368.6,381.3 L369.1,379.7 L369.6,378.2 L370.1,376.7 L370.6,375.3 L371.1,373.8 L371.6,372.4 L372.1,371 L372.6,369.6 L373.1,368.3 L373.6,367 L374.1,365.7 L374.6,364.5 L375.1,363.3 L375.6,362.2 L376.1,361.1 L376.9,359.5 L377.6,358 L378.4,356.6 L379.1,355.4 L379.9,354.2 L380.6,353.2 L381.6,351.9 L382.6,350.9 L383.6,350.1 L384.9,349.4 L386.1,349.1 L387.4,349.1 L388.6,349.4 L389.9,350.1 L390.9,350.9 L391.9,351.9 L392.9,353.2 L393.6,354.3 L394.4,355.5 L395.1,356.8 L395.9,358.2 L396.6,359.8 L397.4,361.4 L397.9,362.6 L398.4,363.8 L398.9,365 L399.4,366.3 L399.9,367.6 L400.4,369 L400.9,370.4 L401.4,371.8 L401.9,373.2 L402.4,374.7 L402.9,376.2 L403.4,377.7 L403.9,379.3 L404.4,380.8 L404.9,382.4 L405.4,384 L405.9,385.7 L406.4,387.3 L406.9,388.9 L407.4,390.6 L407.9,392.2 L408.4,393.9 L408.9,395.6 L409.4,397.3 L409.9,398.9 L410.4,400.6 L410.9,402.3 L411.4,403.9 L411.9,405.6 L412.4,407.2 L412.9,408.9 L413.4,410.5 L413.9,412.1 L414.4,413.8 L414.9,415.3 L415.4,416.9 L415.9,418.5 L416.4,420 L416.9,421.6 L417.4,423.1 L417.9,424.6 L418.3,426 L418.8,427.5 L419.3,428.9 L419.8,430.3 L420.3,431.7 L420.8,433.1 L421.3,434.4 L421.8,435.7 L422.3,437 L422.8,438.2 L423.3,439.5 L423.8,440.7 L424.3,441.9 L424.8,443 L425.3,444.1 L425.8,445.2 L426.6,446.8 L427.3,448.4 L428.1,449.8 L428.8,451.3 L429.6,452.6 L430.3,453.9 L431.1,455.2 L431.8,456.3 L432.6,457.5 L433.3,458.5 L434.1,459.6 L434.8,460.5 L435.8,461.8 L436.8,462.9 L437.8,464 L438.8,464.9 L439.8,465.8 L440.8,466.7 L441.8,467.4 L442.8,468.2 L444.1,469 L445.3,469.7 L446.6,470.3 L447.8,470.9 L449.1,471.5 L450.3,471.9 L451.6,472.3 L452.8,472.7 L454.1,473 L455.3,473.3 L456.6,473.6 L457.8,473.9 L459.1,474.1 L460.3,474.3 L461.6,474.5 L462.8,474.6 L464.1,474.8 L465.3,474.9 L466.6,475 L467.8,475.1 L469.1,475.3 L470.3,475.4 L471.6,475.5 L472.8,475.5 L474.1,475.6 L475.3,475.7 L476.5,475.8 L477.8,475.9 L479,476 L480.3,476 L481.5,476.1 L482.8,476.2 L484,476.2 L485.3,476.3 L486.5,476.4 L487.8,476.5 L489,476.5 L490.3,476.6 L491.5,476.6 L492.8,476.7 L494,476.8 L495.3,476.8 L496.5,476.9 L497.8,477 L499,477 L500.3,477.1 L501.5,477.1 L502.8,477.2 L504,477.3 L505.3,477.3 L506.5,477.4 L507.8,477.4 L509,477.5 L510.3,477.6 L511.5,477.6 L512.8,477.7 L514,477.7 L515.3,477.8 L516.5,477.8 L517.8,477.9 L519,478 L520.3,478 L521.5,478.1 L522.8,478.1 L524,478.2 L525.3,478.2 L526.5,478.3 L527.8,478.3 L529,478.4 L530.3,478.4 L531.5,478.5 L532.8,478.6 L533,478.6" fill="none" stroke="#00b0f0" stroke-width="1.8" stroke-linejoin="round" stroke-linecap="round" />
<path d="M302.7,458.9 L303.9,458.9 L305.2,458.8 L306.4,458.8 L307.7,458.7 L308.9,458.6 L310.2,458.5 L311.4,458.4 L312.7,458.3 L313.9,458.1 L315.2,457.9 L316.4,457.7 L317.7,457.5 L318.9,457.2 L320.2,456.9 L321.4,456.5 L322.7,456.1 L323.9,455.7 L325.2,455.2 L326.4,454.6 L327.7,453.9 L328.9,453.2 L329.9,452.5 L330.9,451.8 L331.9,450.9 L332.9,450 L333.9,449 L334.9,447.9 L335.9,446.7 L336.7,445.7 L337.4,444.6 L338.2,443.5 L338.9,442.3 L339.7,441 L340.4,439.7 L341.2,438.2 L341.9,436.7 L342.7,435.1 L343.2,434 L343.7,432.9 L344.2,431.7 L344.7,430.5 L345.2,429.3 L345.7,428 L346.2,426.7 L346.7,425.4 L347.2,424 L347.7,422.6 L348.2,421.2 L348.7,419.7 L349.2,418.2 L349.7,416.7 L350.2,415.1 L350.7,413.5 L351.2,411.9 L351.7,410.3 L352.2,408.6 L352.7,406.9 L353.2,405.2 L353.7,403.5 L354.2,401.7 L354.7,399.9 L355.2,398.1 L355.7,396.3 L356.2,394.5 L356.7,392.6 L357.2,390.8 L357.7,388.9 L358.2,387 L358.7,385.1 L359.2,383.2 L359.7,381.3 L360.2,379.3 L360.7,377.4 L361.2,375.5 L361.7,373.5 L362.2,371.6 L362.7,369.6 L363.2,367.7 L363.7,365.7 L364.2,363.8 L364.7,361.8 L365.2,359.9 L365.7,358 L366.2,356 L366.7,354.1 L367.2,352.2 L367.7,350.3 L368.2,348.5 L368.7,346.6 L369.2,344.8 L369.7,343 L370.2,341.2 L370.7,339.5 L371.2,337.8 L371.7,336.2 L372.2,334.5 L372.7,333 L373.2,331.5 L373.7,330 L374.2,328.6 L374.7,327.3 L375.2,326 L375.7,324.8 L376.2,323.7 L376.9,322.1 L377.7,320.8 L378.4,319.6 L379.2,318.6 L380.2,317.4 L381.2,316.6 L382.4,316 L383.7,315.7 L384.9,315.8 L386.2,316.2 L387.4,317 L388.4,317.8 L389.4,318.8 L390.4,320 L391.2,321.1 L391.9,322.2 L392.7,323.4 L393.4,324.7 L394.2,326.1 L394.9,327.6 L395.7,329.2 L396.2,330.3 L396.7,331.4 L397.2,332.6 L397.7,333.8 L398.2,335 L398.7,336.3 L399.2,337.6 L399.7,338.9 L400.2,340.3 L400.7,341.6 L401.2,343.1 L401.7,344.5 L402.2,345.9 L402.7,347.4 L403.2,348.9 L403.7,350.4 L404.2,351.9 L404.7,353.4 L405.2,354.9 L405.7,356.5 L406.2,358 L406.7,359.6 L407.2,361.2 L407.7,362.7 L408.2,364.3 L408.7,365.9 L409.2,367.5 L409.7,369 L410.2,370.6 L410.7,372.2 L411.2,373.8 L411.7,375.3 L412.2,376.9 L412.7,378.4 L413.2,379.9 L413.7,381.5 L414.2,383 L414.7,384.5 L415.2,386 L415.7,387.4 L416.2,388.9 L416.7,390.4 L417.2,391.8 L417.6,393.2 L418.1,394.6 L418.6,396 L419.1,397.4 L419.6,398.7 L420.1,400 L420.6,401.4 L421.1,402.6 L421.6,403.9 L422.1,405.2 L422.6,406.4 L423.1,407.6 L423.6,408.8 L424.1,410 L424.6,411.2 L425.1,412.3 L425.6,413.5 L426.1,414.6 L426.9,416.2 L427.6,417.8 L428.4,419.3 L429.1,420.8 L429.9,422.3 L430.6,423.7 L431.4,425.1 L432.1,426.4 L432.9,427.7 L433.6,429 L434.4,430.3 L435.1,431.5 L435.9,432.6 L436.6,433.8 L437.4,434.9 L438.1,436 L438.9,437.1 L439.6,438.1 L440.4,439.1 L441.1,440.1 L441.9,441 L442.6,442 L443.6,443.2 L444.6,444.4 L445.6,445.5 L446.6,446.6 L447.6,447.7 L448.6,448.8 L449.6,449.8 L450.6,450.8 L451.6,451.7 L452.6,452.7 L453.6,453.6 L454.6,454.5 L455.6,455.3 L456.6,456.2 L457.6,457 L458.6,457.8 L459.6,458.6 L460.6,459.4 L461.6,460.1 L462.6,460.8 L463.6,461.5 L464.6,462.2 L465.6,462.9 L466.9,463.7 L468.1,464.5 L469.4,465.2 L470.6,466 L471.9,466.7 L473.1,467.3 L474.4,468 L475.6,468.6 L476.9,469.2 L478.1,469.7 L479.4,470.3 L480.6,470.8 L481.9,471.3 L483.1,471.7 L484.4,472.2 L485.6,472.6 L486.9,473 L488.1,473.3 L489.4,473.7 L490.6,474 L491.9,474.3 L493.1,474.6 L494.4,474.9 L495.6,475.1 L496.9,475.4 L498.1,475.6 L499.4,475.8 L500.6,476 L501.9,476.2 L503.1,476.4 L504.4,476.5 L505.6,476.7 L506.9,476.8 L508.1,476.9 L509.4,477.1 L510.6,477.2 L511.9,477.3 L513.1,477.4 L514.4,477.5 L515.6,477.6 L516.9,477.6 L518.1,477.7 L519.4,477.8 L520.6,477.9 L521.9,477.9 L523.1,478 L524.4,478 L525.6,478.1 L526.9,478.2 L528.1,478.2 L529.4,478.3 L530.6,478.3 L531.9,478.4 L532.6,478.4" fill="none" stroke="#1a1a1a" stroke-width="1.8" stroke-linejoin="round" stroke-linecap="round" />
<path d="M302.7,458.2 C303.1,458.1 303.7,457.9 305,457.8 C306.3,457.7 309.2,457.5 310.7,457.5 C312.2,457.5 313.1,457.6 314,457.7 C314.9,457.8 315.5,458.2 316.3,458 C317.1,457.8 317.7,457.2 318.6,456.7 C319.6,456.2 320.5,455.7 322,455 C323.5,454.3 326.4,453.2 327.7,452.7 C329,452.1 329,452.2 330,451.7 C331,451.2 332.4,450.7 333.6,449.5 C334.8,448.3 336.1,446.6 337.3,444.5 C338.5,442.4 339.8,439.4 340.9,437.2 C341.9,435 342.7,433.2 343.6,431.3 C344.5,429.4 345.5,427.6 346.4,425.7 C347.2,423.8 348.1,421.5 348.7,420 C349.3,418.5 349.4,418.4 350,416.6 C350.6,414.8 351.4,411.6 352,409.2 C352.6,406.8 353.1,404.8 353.7,402.4 C354.3,400 355,397.4 355.7,395 C356.4,392.6 357,390.2 357.7,387.7 C358.4,385.1 359,382.2 359.6,379.7 C360.2,377.1 360.9,374.8 361.6,372.4 C362.3,369.9 362.8,367.9 363.6,365 C364.4,362.1 365.5,357.8 366.3,354.9 C367.1,352 367.6,349.9 368.2,347.5 C368.8,345.1 369.5,342.8 370.2,340.7 C370.9,338.6 371.4,336.9 372.1,334.8 C372.8,332.7 373.6,330.1 374.3,327.9 C375,325.7 375.8,323.4 376.5,321.6 C377.2,319.8 378.1,317.9 378.8,317.1 C379.5,316.4 379.9,317.3 380.5,317.1 C381.1,316.9 381.5,316.3 382.2,315.9 C382.9,315.5 383.8,314.9 384.5,314.8 C385.2,314.7 386,315.1 386.7,315.4 C387.4,315.7 388.1,316.1 388.7,316.8 C389.3,317.5 389.7,318.2 390.2,319.3 C390.7,320.4 391,322.1 391.6,323.3 C392.2,324.5 392.9,325.8 393.6,326.7 C394.3,327.6 395.2,328.3 395.8,329 C396.4,329.7 396.9,329.8 397.5,330.7 C398.1,331.6 398.7,332.9 399.2,334.1 C399.7,335.3 400,336.6 400.4,338 C400.8,339.4 401,340.4 401.6,342.4 C402.2,344.3 403.1,347.2 403.9,349.7 C404.7,352.1 405.4,354.6 406.2,357.1 C406.9,359.7 407.6,362.4 408.4,365 C409.1,367.6 409.9,369.9 410.7,372.4 C411.5,374.9 412,376.9 413,380 C414,383.1 415.8,388.8 416.7,391.3 C417.6,393.8 417.9,393.6 418.5,395 C419.1,396.4 419.4,398 420.1,399.9 C420.8,401.8 421.9,404.6 422.6,406.3 C423.3,408 423.5,408.6 424.4,410.3 C425.2,412 426.8,414.9 427.7,416.6 C428.6,418.3 429.3,419.1 430,420.5 C430.7,421.9 431.4,423.6 432.1,425 C432.8,426.4 433.6,427.7 434.3,429 C435.1,430.3 435.9,431.7 436.6,432.9 C437.4,434.1 438,435.2 438.8,436.3 C439.6,437.4 440.9,438.1 441.7,439.2 C442.5,440.3 443.2,442.2 443.9,443.2 C444.6,444.2 445.3,444.3 445.8,445 C446.3,445.7 446.2,446.4 446.9,447.3 C447.5,448.2 448.6,449.1 449.7,450.1 C450.8,451.1 452,452.5 453.2,453.5 C454.4,454.5 455.7,455.9 456.6,456.3 C457.5,456.7 458.2,455.6 458.8,455.8 C459.4,456 459.9,456.9 460.5,457.5 C461.1,458.1 461.7,458.9 462.4,459.5 C463.1,460.1 463.9,460.5 464.8,461.2 C465.7,461.9 466.8,462.8 467.7,463.5 C468.6,464.2 469.6,464.9 470.5,465.5 C471.4,466.1 472.3,466.4 473.3,466.9 C474.3,467.4 475.5,468.2 476.7,468.6 C477.9,469 479.5,469 480.7,469.5 C481.9,470 482.8,470.9 483.6,471.4 C484.5,471.9 484.9,472.3 485.8,472.6 C486.7,472.9 487.9,473.1 489.2,473.4 C490.4,473.7 492.1,474.1 493.3,474.2 C494.6,474.3 495.6,473.7 496.7,473.8 C497.8,473.9 499,474.2 500,474.6 C501,475 501.7,475.8 502.5,475.9 C503.3,476 504.1,475.4 505,475.5 C505.9,475.6 506.8,475.9 507.6,476.3 C508.5,476.7 509.3,477.7 510.1,477.6 C510.9,477.5 511.8,475.8 512.6,475.9 C513.4,476 514.1,477.9 515.1,478 C516.1,478.1 517.3,476.5 518.4,476.3 C519.5,476.1 520.7,476.6 521.8,476.7 C522.9,476.8 524,477 525.1,477.1 C526.2,477.2 527.2,477.5 528.5,477.6 C529.8,477.8 531.9,477.9 532.6,478" fill="none" stroke="#ff0000" stroke-width="2.1" stroke-linejoin="round" stroke-linecap="round" />
<path d="M327.8,481.9 v-2.6 M378.6,481.9 v-2.6 M430.7,481.9 v-2.6 M481.9,481.9 v-2.6" stroke="#6a6a6a" stroke-width="1" fill="none"/>
<text x="327.5" y="498.4" font-size="11.3" text-anchor="middle" class="n">534</text>
<text x="378.7" y="498.4" font-size="11.3" text-anchor="middle" class="n">532</text>
<text x="430" y="498.4" font-size="11.3" text-anchor="middle" class="n">530</text>
<text x="482.3" y="498.4" font-size="11.3" text-anchor="middle" class="n">528</text>
<text x="533.7" y="498.4" font-size="11.3" text-anchor="middle" class="n">526</text>
<text x="418.6" y="517.5" font-size="12.5" text-anchor="middle" >Binding energy (eV)</text>
<text x="0" y="0" font-size="14.5" text-anchor="middle" transform="translate(289.5,385.5) rotate(-90)">Intensity (a. u.)</text>
<text x="511.8" y="287.7" font-size="12.6" text-anchor="middle" >O 1s</text>
<text x="386.8" y="352.4" font-size="12.4" text-anchor="middle" >H–O</text>
<text x="368.5" y="442.6" font-size="12.6" text-anchor="middle" >S–O</text>
<text x="427.9" y="463.4" font-size="12.6" text-anchor="middle" >Zn–O</text>
</svg>
</body></html>
